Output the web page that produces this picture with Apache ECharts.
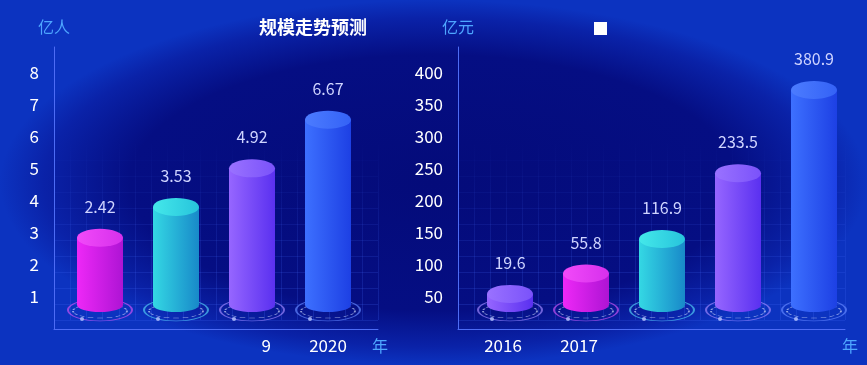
<!DOCTYPE html>
<html>
<head>
<meta charset="utf-8">
<script src="https://cdn.jsdelivr.net/npm/echarts@6/dist/echarts.min.js"></script>
<style>
html, body { margin: 0; padding: 0; }
#chart { width: 867px; height: 365px; }
</style>
</head>
<body>
<div id="chart"></div>
<script>
// left: users (亿人)
var leftYears = ['2017', '2018', '2019', '2020'];
var leftUsers = [2.42, 3.53, 4.92, 6.67];
var leftHidden = [4, 4, 3, 0];   // characters of the tick label that are smudged out in the picture
var leftTones = ['magenta', 'cyan', 'purple', 'blue'];

// right: market (亿元)
var rightYears = ['2016', '2017', '2018', '2019', '2020'];
var rightMarket = [19.6, 55.8, 116.9, 233.5, 380.9];
var rightHidden = [0, 0, 4, 4, 4];
var rightTones = ['purple', 'magenta', 'cyan', 'purple', 'blue'];

var tones = {
  magenta: { side: ['#ee28f7', '#ae14d4'], top: ['#f24af9', '#d630ec'], ring: 'rgba(205,80,245,0.85)' },
  cyan:    { side: ['#34d8e4', '#1889c9'], top: ['#44e8ea', '#27c4dc'], ring: 'rgba(80,205,245,0.85)' },
  purple:  { side: ['#9666ff', '#5a30f0'], top: ['#9a72ff', '#7a52fa'], ring: 'rgba(160,135,255,0.85)' },
  blue:    { side: ['#3d70ff', '#1d40e4'], top: ['#4c7cff', '#3462f6'], ring: 'rgba(100,135,255,0.85)' }
};

var font = "'Noto Sans CJK SC', 'Noto Sans', sans-serif";
var axisBlue = '#4d6cf5';

function grad(c) {
  return new echarts.graphic.LinearGradient(0, 0, 1, 0, [
    { offset: 0, color: c[0] }, { offset: 1, color: c[1] }
  ]);
}

function tickLabel(hidden) {
  return function (v, i) {
    var n = hidden[i];
    if (n >= v.length) return '';
    return (n ? '{h|' + v.slice(0, n) + '}' : '') + '{s|' + v.slice(n) + '}';
  };
}

function cylinders(values, years, toneNames, ax, name) {
  var side = values.map(function (v, i) {
    return { value: v, itemStyle: { color: grad(tones[toneNames[i]].side) } };
  });
  var top = values.map(function (v, i) {
    return { value: v, itemStyle: { color: grad(tones[toneNames[i]].top) } };
  });
  // rings sit on the base of every cylinder
  var ring = years.map(function (y, i) {
    return { value: [y, 0], itemStyle: { borderColor: tones[toneNames[i]].ring } };
  });
  var base = years.map(function (y) { return [y, 0]; });
  return [
    {
      name: name, type: 'bar', xAxisIndex: ax, yAxisIndex: ax,
      barWidth: 46, z: 2, data: side
    },
    {
      type: 'pictorialBar', xAxisIndex: ax, yAxisIndex: ax, symbol: 'circle',
      symbolSize: [46, 14], symbolPosition: 'start', symbolOffset: [0, '50%'], z: 2, data: side
    },
    {
      type: 'pictorialBar', xAxisIndex: ax, yAxisIndex: ax, symbol: 'circle',
      symbolSize: [46, 18], symbolPosition: 'end', symbolOffset: [0, '-50%'], z: 3,
      label: { show: true, position: 'top', distance: 14, color: '#cfd4ff', fontSize: 16, fontFamily: font },
      data: top
    },
    {
      type: 'scatter', xAxisIndex: ax, yAxisIndex: ax, symbol: 'circle', silent: true,
      symbolSize: [64, 22], symbolOffset: [0, 5], z: 1,
      itemStyle: { color: 'transparent', borderWidth: 1.2 },
      data: ring
    },
    {
      type: 'scatter', xAxisIndex: ax, yAxisIndex: ax, symbol: 'circle', silent: true,
      symbolSize: [54, 14], symbolOffset: [0, 6], z: 1,
      itemStyle: { color: 'transparent', borderColor: 'rgba(215,225,255,0.8)', borderWidth: 1, borderType: [3, 2] },
      data: base
    },
    {
      type: 'scatter', xAxisIndex: ax, yAxisIndex: ax, symbol: 'circle', silent: true,
      symbolSize: 4, symbolOffset: [-18, 14], z: 1,
      itemStyle: { color: '#b8c4ff' }, data: base
    }
  ];
}

var chart = echarts.init(document.getElementById('chart'));

var tickRich = {
  h: { color: 'transparent', fontSize: 17, fontFamily: font },
  s: { color: '#ffffff', fontSize: 17, fontFamily: font }
};

function axisGridY(max, step, name) {
  return {
    type: 'value', min: 0, max: max, interval: step,
    name: name, nameLocation: 'end', nameGap: 12,
    nameTextStyle: { color: '#4ea6ff', fontSize: 16, fontFamily: font, align: 'center' },
    axisLine: { show: true, lineStyle: { color: axisBlue, width: 1 } },
    axisTick: { show: false }, splitLine: { show: false },
    axisLabel: {
      color: '#ffffff', fontSize: 17, fontFamily: font, margin: 15,
      formatter: function (v) { return (v > 0 && v <= max - step * 0.5) ? String(v) : ''; }
    }
  };
}

function axisGridX(gap) {
  return {
    type: 'category', data: [''], boundaryGap: false,
    name: '年', nameLocation: 'end', nameGap: gap,
    nameTextStyle: { color: '#4ea6ff', fontSize: 16, fontFamily: font, verticalAlign: 'top', padding: [9, 0, 0, 0] },
    axisLine: { show: true, lineStyle: { color: axisBlue, width: 1 } },
    axisTick: { show: false }, axisLabel: { show: false }, splitLine: { show: false }
  };
}

// backdrop lattice fades out towards the top
var latticeColor = new echarts.graphic.LinearGradient(0, 0, 0, 1, [
  { offset: 0, color: 'rgba(70,110,255,0)' },
  { offset: 0.45, color: 'rgba(70,110,255,0.13)' },
  { offset: 1, color: 'rgba(70,110,255,0.22)' }
]);
var fadeRows = [0.2, 0.2, 0.19, 0.18, 0.16, 0.14, 0.12, 0.1, 0.07, 0.05, 0.03, 0].map(function (a) {
  return 'rgba(70,110,255,' + a + ')';
});

function deco(max, step, color) {
  return {
    type: 'value', min: 0, max: max, interval: step,
    axisLine: { show: false }, axisTick: { show: false }, axisLabel: { show: false },
    splitLine: { show: true, lineStyle: { color: color, width: 1 } }
  };
}

function barX(years, hidden, pad) {
  return {
    type: 'category', data: years,
    axisLine: { show: false }, axisTick: { show: false },
    axisLabel: { interval: 0, margin: 32, formatter: tickLabel(hidden), rich: tickRich, padding: pad }
  };
}

function barY(max) {
  return { type: 'value', min: 0, max: max, show: false };
}

// elliptical glow: dark middle, bright blue frame
var glow = new echarts.graphic.RadialGradient(0.5, 0.5, 0.5, [
  { offset: 0, color: '#040b7a' },
  { offset: 0.7, color: '#050e83' },
  { offset: 0.9, color: '#0a22a8' },
  { offset: 1, color: '#0c33c0' }
]);

chart.setOption({
  backgroundColor: '#0c33c0',
  textStyle: { fontFamily: font },
  title: {
    text: '规模走势预测', left: 254, top: 13,
    textStyle: { color: '#ffffff', fontSize: 18, fontWeight: 'bold', fontFamily: font }
  },
  legend: {
    left: 589, top: 17, itemWidth: 13, itemHeight: 13, icon: 'rect',
    data: ['市场规模'], formatter: function () { return ''; },
    itemStyle: { color: '#ffffff' }, selectedMode: false
  },
  graphic: [
    {
      type: 'rect', z: -10, silent: true,
      x: 0, y: 0, scaleX: 867 / 365, scaleY: 1,
      shape: { x: 0, y: 0, width: 365, height: 365 },
      style: { fill: glow }
    }
  ],
  grid: [
    { left: 54, top: 47, width: 324, bottom: 36 },    // 0 left axes
    { left: 62, top: 55, width: 304, bottom: 60 },    // 1 left bars
    { left: 54, top: 144, width: 324, bottom: 45 },   // 2 left backdrop
    { left: 458, top: 47, width: 387, bottom: 36 },   // 3 right axes
    { left: 472, top: 51, width: 380, bottom: 60 },   // 4 right bars
    { left: 458, top: 144, width: 387, bottom: 45 }   // 5 right backdrop
  ],
  xAxis: [
    Object.assign(axisGridX(-6), { gridIndex: 0 }),
    Object.assign(barX(leftYears, leftHidden, [0, 0, 0, 0]), { gridIndex: 1 }),
    Object.assign(deco(324, 16.2, latticeColor), { gridIndex: 2 }),
    Object.assign(axisGridX(-3), { gridIndex: 3 }),
    Object.assign(barX(rightYears, rightHidden, [0, 14, 0, 0]), { gridIndex: 4 }),
    Object.assign(deco(387, 16.125, latticeColor), { gridIndex: 5 })
  ],
  yAxis: [
    Object.assign(axisGridY(8.8, 1, '亿人'), { gridIndex: 0 }),
    Object.assign(barY(9), { gridIndex: 1 }),
    Object.assign(deco(176, 16, fadeRows), { gridIndex: 2 }),
    Object.assign(axisGridY(440, 50, '亿元'), { gridIndex: 3 }),
    Object.assign(barY(450), { gridIndex: 4 }),
    Object.assign(deco(176, 16, fadeRows), { gridIndex: 5 })
  ],
  series: [].concat(
    cylinders(leftUsers, leftYears, leftTones, 1, '用户规模'),
    cylinders(rightMarket, rightYears, rightTones, 4, '市场规模')
  )
});
</script>
</body>
</html>
